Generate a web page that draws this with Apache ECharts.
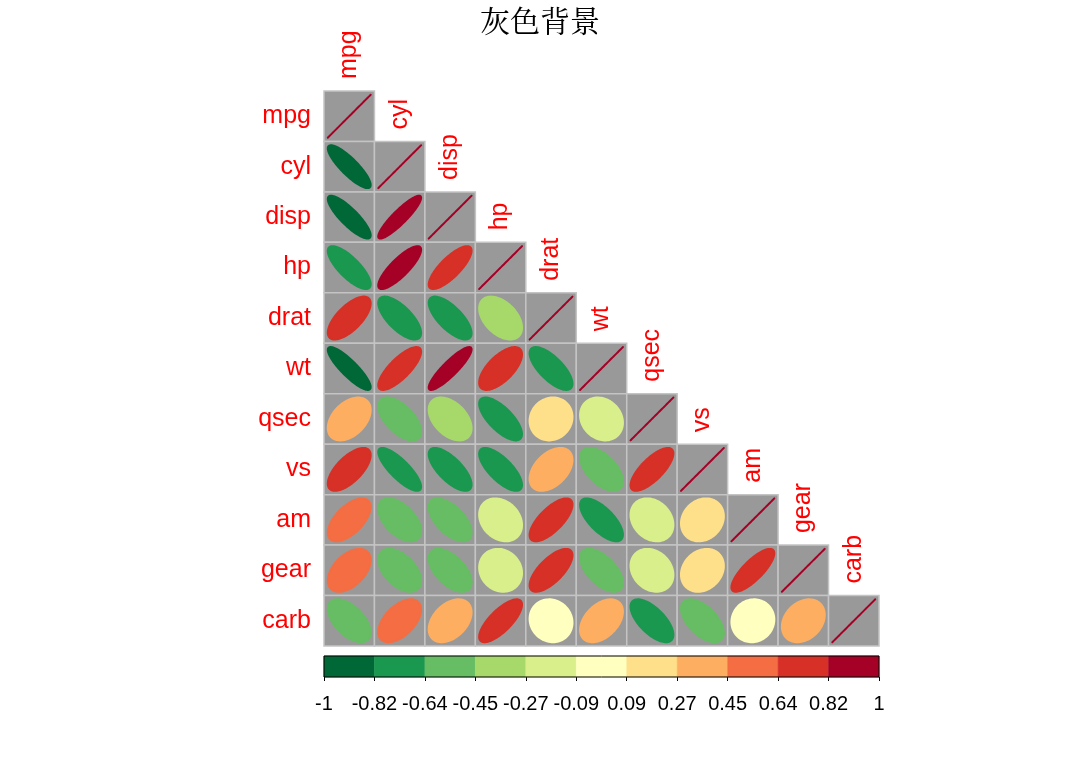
<!DOCTYPE html>
<html>
<head>
<meta charset="utf-8">
<script src="https://cdn.jsdelivr.net/npm/echarts@6/dist/echarts.min.js"></script>
<style>html,body{margin:0;padding:0;background:#fff;}#c{width:1080px;height:771px;}</style>
</head>
<body>
<div id="c"></div>
<script>
const vars = ['mpg','cyl','disp','hp','drat','wt','qsec','vs','am','gear','carb'];
const corMpg  = [1, -0.8522, -0.8476, -0.7762, 0.6812, -0.8677, 0.4187, 0.6640, 0.5998, 0.4803, -0.5509];
const corCyl  = [-0.8522, 1, 0.9020, 0.8324, -0.6999, 0.7825, -0.5912, -0.8108, -0.5226, -0.4927, 0.5270];
const corDisp = [-0.8476, 0.9020, 1, 0.7909, -0.7102, 0.8880, -0.4337, -0.7104, -0.5912, -0.5556, 0.3950];
const corHp   = [-0.7762, 0.8324, 0.7909, 1, -0.4488, 0.6587, -0.7082, -0.7231, -0.2432, -0.1257, 0.7498];
const corDrat = [0.6812, -0.6999, -0.7102, -0.4488, 1, -0.7124, 0.0912, 0.4403, 0.7127, 0.6996, -0.0908];
const corWt   = [-0.8677, 0.7825, 0.8880, 0.6587, -0.7124, 1, -0.1747, -0.5549, -0.6925, -0.5833, 0.4276];
const corQsec = [0.4187, -0.5912, -0.4337, -0.7082, 0.0912, -0.1747, 1, 0.7445, -0.2299, -0.2127, -0.6562];
const corVs   = [0.6640, -0.8108, -0.7104, -0.7231, 0.4403, -0.5549, 0.7445, 1, 0.1683, 0.2060, -0.5696];
const corAm   = [0.5998, -0.5226, -0.5912, -0.2432, 0.7127, -0.6925, -0.2299, 0.1683, 1, 0.7941, 0.0575];
const corGear = [0.4803, -0.4927, -0.5556, -0.1257, 0.6996, -0.5833, -0.2127, 0.2060, 0.7941, 1, 0.2741];
const corCarb = [-0.5509, 0.5270, 0.3950, 0.7498, -0.0908, 0.4276, -0.6562, -0.5696, 0.0575, 0.2741, 1];
const palette = ['#006837','#1a9850','#66bd63','#a6d96a','#d9ef8b','#ffffbf','#fee08b','#fdae61','#f46d43','#d73027','#a50026'];
const colorbarLabels = ['-1','-0.82','-0.64','-0.45','-0.27','-0.09','0.09','0.27','0.45','0.64','0.82','1'];
const titleText = '灰色背景';

const corrRows = [corMpg, corCyl, corDisp, corHp, corDrat, corWt, corQsec, corVs, corAm, corGear, corCarb];

function colorOf(r) {
  let idx = Math.ceil((r + 1) / 2 * palette.length) - 1;
  idx = Math.max(0, Math.min(palette.length - 1, idx));
  return palette[idx];
}

const cellData = [];
for (let i = 0; i < vars.length; i++) {
  for (let j = 0; j <= i; j++) {
    cellData.push([j, i, corrRows[i][j]]);
  }
}
const diagData = vars.map((v, i) => [i, i, v]);
const binData = palette.map((c, i) => [i, c]);

const FONT = '"Liberation Sans", Arial, sans-serif';
const SCALE = 0.85;

const chart = echarts.init(document.getElementById('c'), null, {renderer: 'canvas'});
chart.setOption({
  animation: false,
  backgroundColor: '#ffffff',
  title: {
    text: titleText,
    left: 535, top: 1, textAlign: 'center',
    textStyle: {fontSize: 30, fontWeight: 'normal', color: '#000', fontFamily: '"Noto Serif CJK SC", "Noto Sans CJK SC", serif'}
  },
  grid: [
    {left: 324, top: 91, width: 555, height: 555, containLabel: false},
    {left: 324, top: 656, width: 555, height: 21, containLabel: false}
  ],
  xAxis: [
    {type: 'category', gridIndex: 0, data: vars, show: false},
    {type: 'value', gridIndex: 1, min: 0, max: 11, interval: 1, position: 'bottom',
      axisLine: {show: false},
      axisTick: {show: true, length: 4, inside: false, lineStyle: {color: '#000', width: 1}},
      splitLine: {show: false},
      axisLabel: {show: true, margin: 17, fontSize: 20, color: '#000', fontFamily: FONT,
        formatter: v => colorbarLabels[v]}}
  ],
  yAxis: [
    {type: 'category', gridIndex: 0, data: vars, inverse: true,
      axisLine: {show: false}, axisTick: {show: false}, splitLine: {show: false},
      axisLabel: {color: '#ff0000', fontSize: 25, margin: 13, fontFamily: FONT, padding: [4, 0, 0, 0]}},
    {type: 'value', gridIndex: 1, min: 0, max: 1, show: false}
  ],
  series: [
    {
      type: 'custom', xAxisIndex: 0, yAxisIndex: 0, data: cellData, clip: false,
      renderItem: function (params, api) {
        const cx = api.value(0), cy = api.value(1), r = api.value(2);
        const c = api.coord([cx, cy]);
        const sz = api.size([1, 1]);
        const w = sz[0], h = sz[1];
        const a = Math.acos(Math.max(-1, Math.min(1, r)));
        const pts = [];
        const n = 99;
        for (let k = 0; k < n; k++) {
          const t = k / (n - 1) * 2 * Math.PI;
          const ex = Math.cos(t + a / 2) / 2 * SCALE * w;
          const ey = Math.cos(t - a / 2) / 2 * SCALE * h;
          pts.push([c[0] + ex, c[1] - ey]);
        }
        const col = colorOf(r);
        return {
          type: 'group',
          children: [
            {type: 'rect', shape: {x: c[0] - w / 2, y: c[1] - h / 2, width: w, height: h},
              style: {fill: '#999999', stroke: '#c4c4c4', lineWidth: 1.5}},
            {type: 'polygon', shape: {points: pts},
              style: {fill: col, stroke: col, lineWidth: 2, lineJoin: 'round'}}
          ]
        };
      }
    },
    {
      type: 'custom', xAxisIndex: 0, yAxisIndex: 0, data: diagData, clip: false,
      renderItem: function (params, api) {
        const idx = api.value(0);
        const c = api.coord([idx, idx]);
        const sz = api.size([1, 1]);
        return {
          type: 'text',
          x: c[0], y: c[1] - sz[1] / 2 - 12,
          rotation: Math.PI / 2,
          style: {text: vars[idx], fill: '#ff0000', fontSize: 25, fontFamily: FONT,
            align: 'left', verticalAlign: 'middle'}
        };
      }
    },
    {
      type: 'custom', xAxisIndex: 1, yAxisIndex: 1, data: binData,
      renderItem: function (params, api) {
        const i = api.value(0);
        const p0 = api.coord([i, 1]);
        const p1 = api.coord([i + 1, 0]);
        return {
          type: 'rect',
          shape: {x: p0[0], y: p0[1], width: p1[0] - p0[0], height: p1[1] - p0[1]},
          style: {fill: palette[i], stroke: palette[i], lineWidth: 0.5}
        };
      }
    },
    {
      type: 'custom', xAxisIndex: 1, yAxisIndex: 1, data: [[0, 11]], z: 5,
      renderItem: function (params, api) {
        const p0 = api.coord([api.value(0), 1]);
        const p1 = api.coord([api.value(1), 0]);
        return {
          type: 'rect',
          shape: {x: p0[0], y: p0[1], width: p1[0] - p0[0], height: p1[1] - p0[1]},
          style: {fill: 'none', stroke: '#000', lineWidth: 1}
        };
      }
    }
  ]
});
</script>
</body>
</html>
